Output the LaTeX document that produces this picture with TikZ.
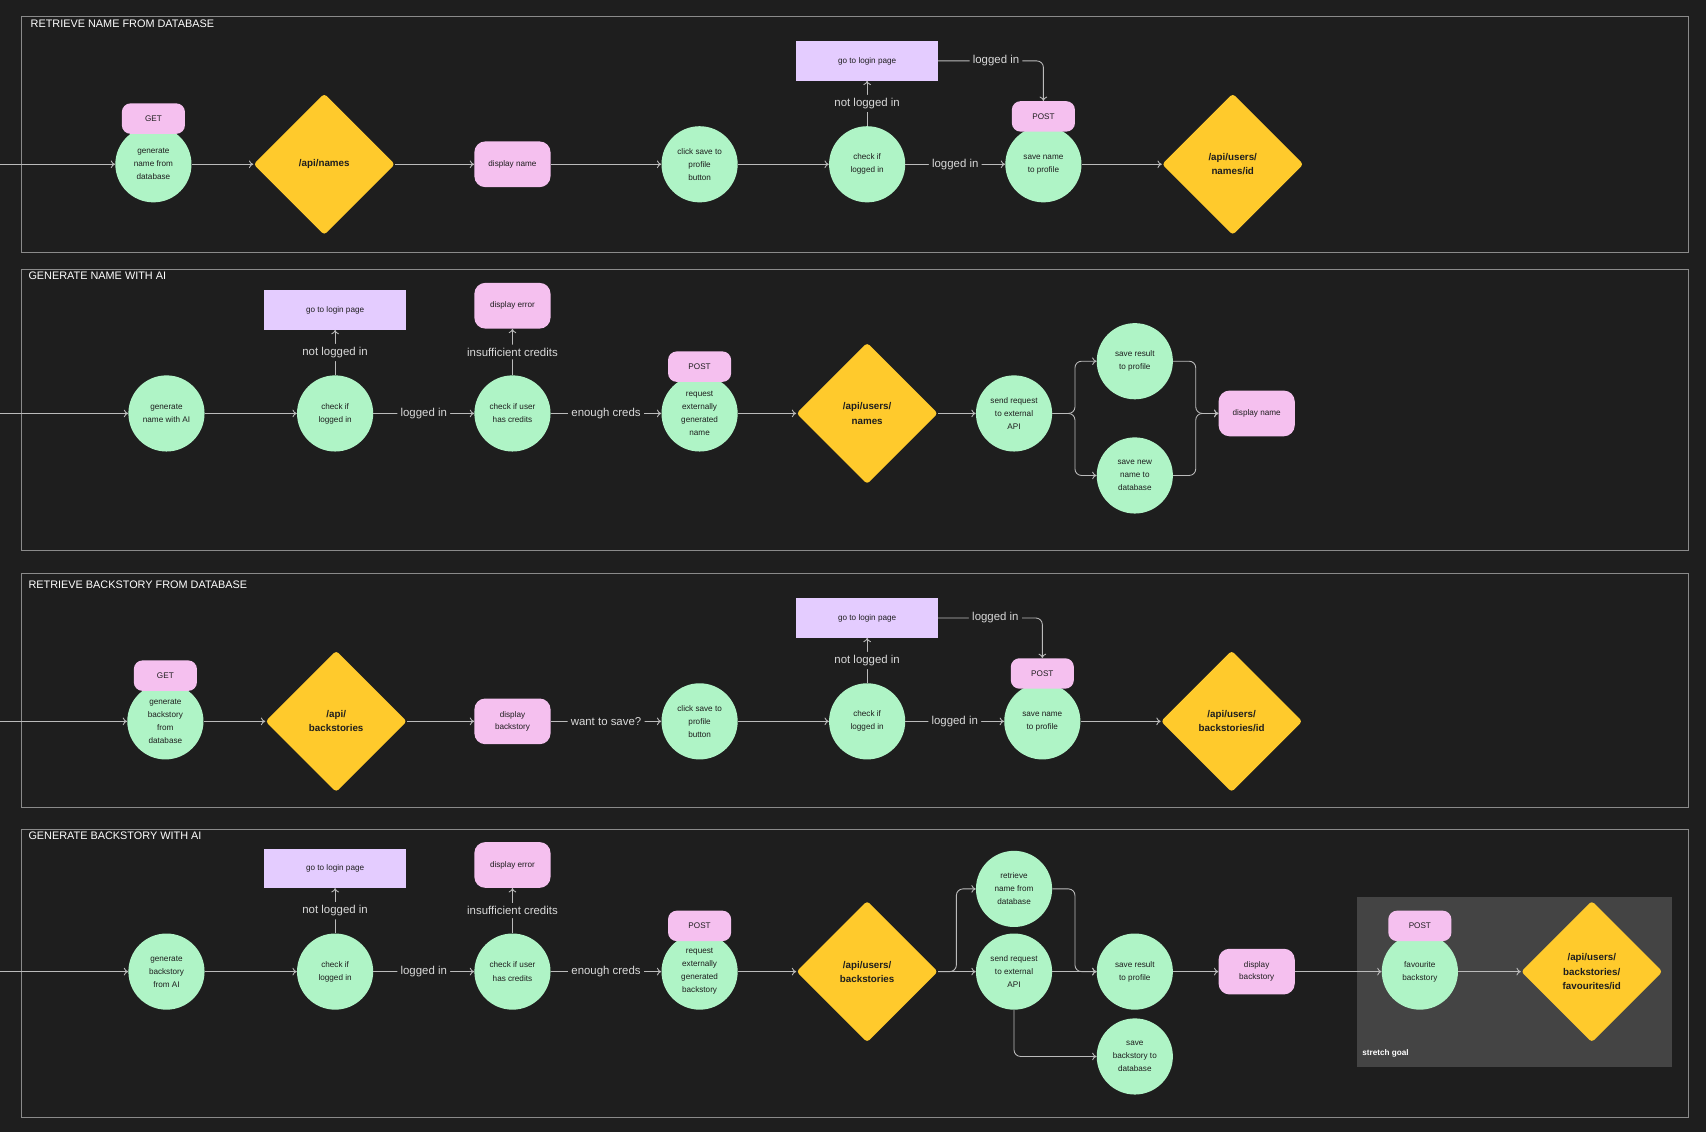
\documentclass[tikz,border=0pt]{standalone}
\usepackage{fontspec}
\setmainfont{Liberation Sans}
\usetikzlibrary{shapes.geometric,arrows.meta}
\definecolor{bg}{HTML}{1E1E1E}
\definecolor{frm}{HTML}{8A8A8A}
\definecolor{grn}{HTML}{AFF4C6}
\definecolor{yel}{HTML}{FFCA2C}
\definecolor{pnk}{HTML}{F5C0EF}
\definecolor{prp}{HTML}{E4CCFF}
\definecolor{gbox}{HTML}{444444}
\definecolor{ln}{HTML}{BBBBBB}
\definecolor{dk}{HTML}{1E1E1E}
\tikzset{
 frame/.style={draw=frm,line width=0.8pt},
 ttl/.style={anchor=north west,text=white,font=\fontsize{10}{12}\selectfont,inner sep=0},
 cir/.style={circle,fill=grn,minimum size=70pt,inner sep=0,align=center,text=dk,font=\fontsize{7.5}{12}\selectfont},
 dia/.style={diamond,fill=yel,minimum width=130pt,minimum height=130pt,inner sep=0,align=center,text=dk,rounded corners=3pt,font=\bfseries\fontsize{9}{13}\selectfont},
 pbox/.style={rectangle,rounded corners=10pt,fill=pnk,minimum width=70pt,minimum height=42pt,align=center,text=dk,font=\fontsize{7.5}{11}\selectfont},
 tag/.style={rectangle,rounded corners=8pt,fill=pnk,minimum width=58pt,minimum height=28pt,text=dk,font=\fontsize{7.5}{9}\selectfont},
 lbox/.style={rectangle,fill=prp,minimum width=130pt,minimum height=36pt,text=dk,font=\fontsize{7.5}{9}\selectfont},
 arr/.style={draw=ln,line width=0.8pt,-{To[length=4pt,width=7pt]},rounded corners=6pt},
 lab/.style={fill=bg,text=white!85!black,font=\fontsize{10.5}{12}\selectfont,inner sep=3pt},
}
\begin{document}
\begin{tikzpicture}[x=1pt,y=-1pt]
\fill[bg] (0,0) rectangle (1568,1040);
\useasboundingbox (0,0) rectangle (1568,1040);
% frames
\draw[frame] (20,15) rectangle (1552,232);
\draw[frame] (20,248) rectangle (1552,506);
\draw[frame] (20,527) rectangle (1552,742);
\draw[frame] (20,762) rectangle (1552,1027);
\node[ttl] (t1) at (28,18) {RETRIEVE NAME FROM DATABASE};
\node[ttl] (t2) at (26,250) {GENERATE NAME WITH AI};
\node[ttl] (t3) at (26,534) {RETRIEVE BACKSTORY FROM DATABASE};
\node[ttl] (t4) at (26,764) {GENERATE BACKSTORY WITH AI};
\fill[gbox] (1247,824) rectangle (1537,981);
\node[anchor=west,text=white,font=\bfseries\fontsize{7.5}{9}\selectfont,inner sep=0] (sg) at (1252,968) {stretch goal};

% ---------- panel 1
\coordinate (s1) at (0,151);
\node[cir] (a1) at (141,151) {generate\\name from\\database};
\node[tag] (a1t) at (141,109) {GET};
\node[dia] (a2) at (298,151) {/api/names};
\node[pbox] (a3) at (471,151) {display name};
\node[cir] (a4) at (643,151) {click save to\\profile\\button};
\node[cir] (a5) at (797,151) {check if\\logged in};
\node[lbox] (a6) at (797,56) {go to login page};
\node[cir] (a7) at (959,151) {save name\\to profile};
\node[tag] (a7t) at (959,107) {POST};
\node[dia] (a8) at (1133,151) {/api/users/\\names/id};
\draw[arr] (s1) -- (a1);
\draw[arr] (a1) -- (a2);
\draw[arr] (a2) -- (a3);
\draw[arr] (a3) -- (a4);
\draw[arr] (a4) -- (a5);
\draw[arr] (a5) -- node[lab]{logged in} (a7);
\draw[arr] (a5) -- node[lab]{not logged in} (a6);
\draw[arr] (a6) -- node[lab,pos=0.55]{logged in} (a6 -| a7t) -- (a7t);
\draw[arr] (a7) -- (a8);

% ---------- panel 2
\coordinate (s2) at (0,380);
\node[cir] (b1) at (153,380) {generate\\name with AI};
\node[cir] (b2) at (308,380) {check if\\logged in};
\node[lbox] (b3) at (308,285) {go to login page};
\node[cir] (b4) at (471,380) {check if user\\has credits};
\node[pbox] (b5) at (471,281) {display error};
\node[cir] (b6) at (643,380) {request\\externally\\generated\\name};
\node[tag] (b6t) at (643,337) {POST};
\node[dia] (b7) at (797,380) {/api/users/\\names};
\node[cir] (b8) at (932,380) {send request\\to external\\API};
\node[cir] (b9) at (1043,332) {save result\\to profile};
\node[cir] (b10) at (1043,437) {save new\\name to\\database};
\node[pbox] (b11) at (1155,380) {display name};
\draw[arr] (s2) -- (b1);
\draw[arr] (b1) -- (b2);
\draw[arr] (b2) -- node[lab]{logged in} (b4);
\draw[arr] (b2) -- node[lab]{not logged in} (b3);
\draw[arr] (b4) -- node[lab]{insufficient credits} (b5);
\draw[arr] (b4) -- node[lab]{enough creds} (b6);
\draw[arr] (b6) -- (b7);
\draw[arr] (b7) -- (b8);
\draw[arr] (b8.east) -- (988,380) -- (988,332) -- (b9);
\draw[arr] (b8.east) -- (988,380) -- (988,437) -- (b10);
\draw[arr] (b9) -- (1099,332) -- (1099,380) -- (b11);
\draw[arr] (b10) -- (1099,437) -- (1099,380) -- (b11);

% ---------- panel 3
\coordinate (s3) at (0,663);
\node[cir] (c1) at (152,663) {generate\\backstory\\from\\database};
\node[tag] (c1t) at (152,621) {GET};
\node[dia] (c2) at (309,663) {/api/\\backstories};
\node[pbox] (c3) at (471,663) {display\\backstory};
\node[cir] (c4) at (643,663) {click save to\\profile\\button};
\node[cir] (c5) at (797,663) {check if\\logged in};
\node[lbox] (c6) at (797,568) {go to login page};
\node[cir] (c7) at (958,663) {save name\\to profile};
\node[tag] (c7t) at (958,619) {POST};
\node[dia] (c8) at (1132,663) {/api/users/\\backstories/id};
\draw[arr] (s3) -- (c1);
\draw[arr] (c1) -- (c2);
\draw[arr] (c2) -- (c3);
\draw[arr] (c3) -- node[lab]{want to save?} (c4);
\draw[arr] (c4) -- (c5);
\draw[arr] (c5) -- node[lab]{logged in} (c7);
\draw[arr] (c5) -- node[lab]{not logged in} (c6);
\draw[arr] (c6) -- node[lab,pos=0.55]{logged in} (c6 -| c7t) -- (c7t);
\draw[arr] (c7) -- (c8);

% ---------- panel 4
\coordinate (s4) at (0,893);
\node[cir] (d1) at (153,893) {generate\\backstory\\from AI};
\node[cir] (d2) at (308,893) {check if\\logged in};
\node[lbox] (d3) at (308,798) {go to login page};
\node[cir] (d4) at (471,893) {check if user\\has credits};
\node[pbox] (d5) at (471,795) {display error};
\node[cir] (d6) at (643,893) {request\\externally\\generated\\backstory};
\node[tag] (d6t) at (643,851) {POST};
\node[dia] (d7) at (797,893) {/api/users/\\backstories};
\node[cir] (d8) at (932,817) {retrieve\\name from\\database};
\node[cir] (d9) at (932,893) {send request\\to external\\API};
\node[cir] (d10) at (1043,893) {save result\\to profile};
\node[cir] (d11) at (1043,971) {save\\backstory to\\database};
\node[pbox] (d12) at (1155,893) {display\\backstory};
\node[cir] (d13) at (1305,893) {favourite\\backstory};
\node[tag] (d13t) at (1305,851) {POST};
\node[dia] (d14) at (1463,893) {/api/users/\\backstories/\\favourites/id};
\draw[arr] (s4) -- (d1);
\draw[arr] (d1) -- (d2);
\draw[arr] (d2) -- node[lab]{logged in} (d4);
\draw[arr] (d2) -- node[lab]{not logged in} (d3);
\draw[arr] (d4) -- node[lab]{insufficient credits} (d5);
\draw[arr] (d4) -- node[lab]{enough creds} (d6);
\draw[arr] (d6) -- (d7);
\draw[arr] (d7) -- (d9);
\draw[arr] (d7.east) -- (879,893) -- (879,817) -- (d8);
\draw[arr] (d8) -- (988,817) -- (988,893) -- (d10);
\draw[arr] (d9) -- (d10);
\draw[arr] (d9.south) -- (932,971) -- (d11);
\draw[arr] (d10) -- (d12);
\draw[arr] (d12) -- (d13);
\draw[arr] (d13) -- (d14);
\end{tikzpicture}
\end{document}
